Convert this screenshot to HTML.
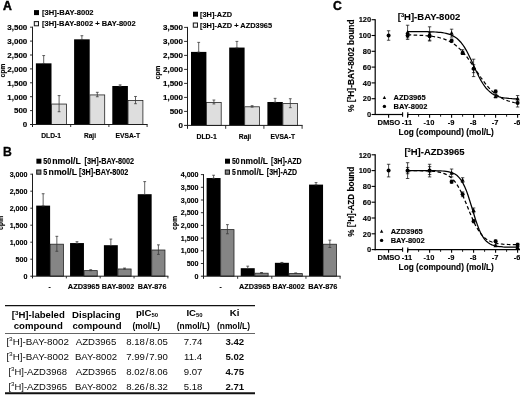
<!DOCTYPE html>
<html><head><meta charset="utf-8"><title>Figure</title>
<style>html,body{margin:0;padding:0;background:#fff}svg{display:block}</style></head>
<body>
<svg width="520" height="395" viewBox="0 0 520 395">
<rect width="520" height="395" fill="#fff"/>
<text x="3.10" y="9.90" font-size="12.2" text-anchor="start" font-family="Liberation Sans, Arial, Helvetica, sans-serif" font-weight="bold" fill="#000" stroke="#000" stroke-width="0.5">A</text>
<text x="2.90" y="155.60" font-size="12.2" text-anchor="start" font-family="Liberation Sans, Arial, Helvetica, sans-serif" font-weight="bold" fill="#000" stroke="#000" stroke-width="0.3">B</text>
<text x="332.90" y="9.80" font-size="12.2" text-anchor="start" font-family="Liberation Sans, Arial, Helvetica, sans-serif" font-weight="bold" fill="#000" stroke="#000" stroke-width="0.4">C</text>
<rect x="35.90" y="63.34" width="15.60" height="61.16" fill="#000"/>
<rect x="51.60" y="104.05" width="14.90" height="20.45" fill="#dedede" stroke="#222" stroke-width="0.8"/>
<line x1="43.70" y1="55.56" x2="43.70" y2="63.64" stroke="#3a3a3a" stroke-width="0.8"/>
<line x1="42.30" y1="55.56" x2="45.10" y2="55.56" stroke="#3a3a3a" stroke-width="0.8"/>
<line x1="42.30" y1="63.64" x2="45.10" y2="63.64" stroke="#3a3a3a" stroke-width="0.8"/>
<line x1="59.10" y1="95.59" x2="59.10" y2="111.71" stroke="#3a3a3a" stroke-width="0.8"/>
<line x1="57.70" y1="95.59" x2="60.50" y2="95.59" stroke="#3a3a3a" stroke-width="0.8"/>
<line x1="57.70" y1="111.71" x2="60.50" y2="111.71" stroke="#3a3a3a" stroke-width="0.8"/>
<rect x="74.10" y="39.32" width="15.60" height="85.18" fill="#000"/>
<rect x="89.80" y="94.93" width="14.90" height="29.57" fill="#dedede" stroke="#222" stroke-width="0.8"/>
<line x1="81.90" y1="35.71" x2="81.90" y2="39.62" stroke="#3a3a3a" stroke-width="0.8"/>
<line x1="80.50" y1="35.71" x2="83.30" y2="35.71" stroke="#3a3a3a" stroke-width="0.8"/>
<line x1="80.50" y1="39.62" x2="83.30" y2="39.62" stroke="#3a3a3a" stroke-width="0.8"/>
<line x1="97.30" y1="92.31" x2="97.30" y2="96.76" stroke="#3a3a3a" stroke-width="0.8"/>
<line x1="95.90" y1="92.31" x2="98.70" y2="92.31" stroke="#3a3a3a" stroke-width="0.8"/>
<line x1="95.90" y1="96.76" x2="98.70" y2="96.76" stroke="#3a3a3a" stroke-width="0.8"/>
<rect x="112.30" y="86.00" width="15.60" height="38.50" fill="#000"/>
<rect x="128.00" y="100.49" width="14.90" height="24.01" fill="#dedede" stroke="#222" stroke-width="0.8"/>
<line x1="120.10" y1="84.88" x2="120.10" y2="86.30" stroke="#3a3a3a" stroke-width="0.8"/>
<line x1="118.70" y1="84.88" x2="121.50" y2="84.88" stroke="#3a3a3a" stroke-width="0.8"/>
<line x1="118.70" y1="86.30" x2="121.50" y2="86.30" stroke="#3a3a3a" stroke-width="0.8"/>
<line x1="135.50" y1="96.48" x2="135.50" y2="103.71" stroke="#3a3a3a" stroke-width="0.8"/>
<line x1="134.10" y1="96.48" x2="136.90" y2="96.48" stroke="#3a3a3a" stroke-width="0.8"/>
<line x1="134.10" y1="103.71" x2="136.90" y2="103.71" stroke="#3a3a3a" stroke-width="0.8"/>
<line x1="32.50" y1="26.70" x2="32.50" y2="127.00" stroke="#1c1c1c" stroke-width="1"/>
<line x1="30.00" y1="124.50" x2="147.60" y2="124.50" stroke="#1c1c1c" stroke-width="1"/>
<line x1="70.70" y1="124.50" x2="70.70" y2="127.00" stroke="#1c1c1c" stroke-width="0.9"/>
<line x1="108.90" y1="124.50" x2="108.90" y2="127.00" stroke="#1c1c1c" stroke-width="0.9"/>
<line x1="147.10" y1="124.50" x2="147.10" y2="127.00" stroke="#1c1c1c" stroke-width="0.9"/>
<text x="22.85" y="127.30" font-size="7.7" text-anchor="start" font-family="Liberation Sans, Arial, Helvetica, sans-serif" font-weight="bold" fill="#000" textLength="4.45" lengthAdjust="spacingAndGlyphs" stroke="#000" stroke-width="0.15">0</text>
<line x1="30.00" y1="110.60" x2="32.50" y2="110.60" stroke="#1c1c1c" stroke-width="0.9"/>
<text x="13.95" y="113.40" font-size="7.7" text-anchor="start" font-family="Liberation Sans, Arial, Helvetica, sans-serif" font-weight="bold" fill="#000" textLength="13.35" lengthAdjust="spacingAndGlyphs" stroke="#000" stroke-width="0.15">500</text>
<line x1="30.00" y1="96.70" x2="32.50" y2="96.70" stroke="#1c1c1c" stroke-width="0.9"/>
<text x="7.30" y="99.50" font-size="7.7" text-anchor="start" font-family="Liberation Sans, Arial, Helvetica, sans-serif" font-weight="bold" fill="#000" textLength="20.00" lengthAdjust="spacingAndGlyphs" stroke="#000" stroke-width="0.15">1,000</text>
<line x1="30.00" y1="82.80" x2="32.50" y2="82.80" stroke="#1c1c1c" stroke-width="0.9"/>
<text x="7.30" y="85.60" font-size="7.7" text-anchor="start" font-family="Liberation Sans, Arial, Helvetica, sans-serif" font-weight="bold" fill="#000" textLength="20.00" lengthAdjust="spacingAndGlyphs" stroke="#000" stroke-width="0.15">1,500</text>
<line x1="30.00" y1="68.90" x2="32.50" y2="68.90" stroke="#1c1c1c" stroke-width="0.9"/>
<text x="7.30" y="71.70" font-size="7.7" text-anchor="start" font-family="Liberation Sans, Arial, Helvetica, sans-serif" font-weight="bold" fill="#000" textLength="20.00" lengthAdjust="spacingAndGlyphs" stroke="#000" stroke-width="0.15">2,000</text>
<line x1="30.00" y1="55.00" x2="32.50" y2="55.00" stroke="#1c1c1c" stroke-width="0.9"/>
<text x="7.30" y="57.80" font-size="7.7" text-anchor="start" font-family="Liberation Sans, Arial, Helvetica, sans-serif" font-weight="bold" fill="#000" textLength="20.00" lengthAdjust="spacingAndGlyphs" stroke="#000" stroke-width="0.15">2,500</text>
<line x1="30.00" y1="41.10" x2="32.50" y2="41.10" stroke="#1c1c1c" stroke-width="0.9"/>
<text x="7.30" y="43.90" font-size="7.7" text-anchor="start" font-family="Liberation Sans, Arial, Helvetica, sans-serif" font-weight="bold" fill="#000" textLength="20.00" lengthAdjust="spacingAndGlyphs" stroke="#000" stroke-width="0.15">3,000</text>
<line x1="30.00" y1="27.20" x2="32.50" y2="27.20" stroke="#1c1c1c" stroke-width="0.9"/>
<text x="7.30" y="30.00" font-size="7.7" text-anchor="start" font-family="Liberation Sans, Arial, Helvetica, sans-serif" font-weight="bold" fill="#000" textLength="20.00" lengthAdjust="spacingAndGlyphs" stroke="#000" stroke-width="0.15">3,500</text>
<text x="41.20" y="138.20" font-size="8.1" text-anchor="start" font-family="Liberation Sans, Arial, Helvetica, sans-serif" font-weight="bold" fill="#000" textLength="19.80" lengthAdjust="spacingAndGlyphs" stroke="#000" stroke-width="0.15">DLD-1</text>
<text x="84.00" y="138.20" font-size="8.1" text-anchor="start" font-family="Liberation Sans, Arial, Helvetica, sans-serif" font-weight="bold" fill="#000" textLength="12.00" lengthAdjust="spacingAndGlyphs" stroke="#000" stroke-width="0.15">Raji</text>
<text x="115.50" y="138.20" font-size="8.1" text-anchor="start" font-family="Liberation Sans, Arial, Helvetica, sans-serif" font-weight="bold" fill="#000" textLength="24.70" lengthAdjust="spacingAndGlyphs" stroke="#000" stroke-width="0.15">EVSA-T</text>
<text transform="translate(4.60,77.60) rotate(-90)" font-size="7.7" text-anchor="start" font-family="Liberation Sans, Arial, Helvetica, sans-serif" font-weight="bold" fill="#000" textLength="14.00" lengthAdjust="spacingAndGlyphs" stroke="#000" stroke-width="0.15">cpm</text>
<rect x="34.00" y="10.10" width="5.00" height="5.00" fill="#000"/>
<text x="42.00" y="15.20" font-size="8.0" text-anchor="start" font-family="Liberation Sans, Arial, Helvetica, sans-serif" font-weight="bold" fill="#000" textLength="51.60" lengthAdjust="spacingAndGlyphs" stroke="#000" stroke-width="0.12">[3H]-BAY-8002</text>
<rect x="34.30" y="21.60" width="4.20" height="4.20" fill="#efefef" stroke="#151515" stroke-width="1.0"/>
<text x="42.00" y="26.40" font-size="8.0" text-anchor="start" font-family="Liberation Sans, Arial, Helvetica, sans-serif" font-weight="bold" fill="#000" textLength="93.60" lengthAdjust="spacingAndGlyphs" stroke="#000" stroke-width="0.12">[3H]-BAY-8002 + BAY-8002</text>
<rect x="191.00" y="51.90" width="15.40" height="73.50" fill="#000"/>
<rect x="206.50" y="102.39" width="14.70" height="23.01" fill="#dedede" stroke="#222" stroke-width="0.8"/>
<line x1="198.70" y1="42.38" x2="198.70" y2="52.20" stroke="#3a3a3a" stroke-width="0.8"/>
<line x1="197.30" y1="42.38" x2="200.10" y2="42.38" stroke="#3a3a3a" stroke-width="0.8"/>
<line x1="197.30" y1="52.20" x2="200.10" y2="52.20" stroke="#3a3a3a" stroke-width="0.8"/>
<line x1="213.90" y1="100.03" x2="213.90" y2="103.95" stroke="#3a3a3a" stroke-width="0.8"/>
<line x1="212.50" y1="100.03" x2="215.30" y2="100.03" stroke="#3a3a3a" stroke-width="0.8"/>
<line x1="212.50" y1="103.95" x2="215.30" y2="103.95" stroke="#3a3a3a" stroke-width="0.8"/>
<rect x="229.20" y="47.56" width="15.40" height="77.84" fill="#000"/>
<rect x="244.70" y="106.79" width="14.70" height="18.61" fill="#dedede" stroke="#222" stroke-width="0.8"/>
<line x1="236.90" y1="41.40" x2="236.90" y2="47.86" stroke="#3a3a3a" stroke-width="0.8"/>
<line x1="235.50" y1="41.40" x2="238.30" y2="41.40" stroke="#3a3a3a" stroke-width="0.8"/>
<line x1="235.50" y1="47.86" x2="238.30" y2="47.86" stroke="#3a3a3a" stroke-width="0.8"/>
<line x1="252.10" y1="105.69" x2="252.10" y2="107.09" stroke="#3a3a3a" stroke-width="0.8"/>
<line x1="250.70" y1="105.69" x2="253.50" y2="105.69" stroke="#3a3a3a" stroke-width="0.8"/>
<line x1="250.70" y1="107.09" x2="253.50" y2="107.09" stroke="#3a3a3a" stroke-width="0.8"/>
<rect x="267.40" y="101.99" width="15.40" height="23.41" fill="#000"/>
<rect x="282.90" y="103.60" width="14.70" height="21.80" fill="#dedede" stroke="#222" stroke-width="0.8"/>
<line x1="275.10" y1="98.35" x2="275.10" y2="102.29" stroke="#3a3a3a" stroke-width="0.8"/>
<line x1="273.70" y1="98.35" x2="276.50" y2="98.35" stroke="#3a3a3a" stroke-width="0.8"/>
<line x1="273.70" y1="102.29" x2="276.50" y2="102.29" stroke="#3a3a3a" stroke-width="0.8"/>
<line x1="290.30" y1="98.72" x2="290.30" y2="107.68" stroke="#3a3a3a" stroke-width="0.8"/>
<line x1="288.90" y1="98.72" x2="291.70" y2="98.72" stroke="#3a3a3a" stroke-width="0.8"/>
<line x1="288.90" y1="107.68" x2="291.70" y2="107.68" stroke="#3a3a3a" stroke-width="0.8"/>
<line x1="187.50" y1="26.90" x2="187.50" y2="128.80" stroke="#1c1c1c" stroke-width="1"/>
<line x1="184.10" y1="125.40" x2="302.60" y2="125.40" stroke="#1c1c1c" stroke-width="1"/>
<line x1="225.70" y1="125.40" x2="225.70" y2="128.80" stroke="#1c1c1c" stroke-width="0.9"/>
<line x1="263.90" y1="125.40" x2="263.90" y2="128.80" stroke="#1c1c1c" stroke-width="0.9"/>
<line x1="302.10" y1="125.40" x2="302.10" y2="128.80" stroke="#1c1c1c" stroke-width="0.9"/>
<text x="178.55" y="128.20" font-size="7.7" text-anchor="start" font-family="Liberation Sans, Arial, Helvetica, sans-serif" font-weight="bold" fill="#000" textLength="4.45" lengthAdjust="spacingAndGlyphs" stroke="#000" stroke-width="0.15">0</text>
<line x1="184.10" y1="111.40" x2="187.50" y2="111.40" stroke="#1c1c1c" stroke-width="0.9"/>
<text x="169.65" y="114.20" font-size="7.7" text-anchor="start" font-family="Liberation Sans, Arial, Helvetica, sans-serif" font-weight="bold" fill="#000" textLength="13.35" lengthAdjust="spacingAndGlyphs" stroke="#000" stroke-width="0.15">500</text>
<line x1="184.10" y1="97.40" x2="187.50" y2="97.40" stroke="#1c1c1c" stroke-width="0.9"/>
<text x="163.00" y="100.20" font-size="7.7" text-anchor="start" font-family="Liberation Sans, Arial, Helvetica, sans-serif" font-weight="bold" fill="#000" textLength="20.00" lengthAdjust="spacingAndGlyphs" stroke="#000" stroke-width="0.15">1,000</text>
<line x1="184.10" y1="83.40" x2="187.50" y2="83.40" stroke="#1c1c1c" stroke-width="0.9"/>
<text x="163.00" y="86.20" font-size="7.7" text-anchor="start" font-family="Liberation Sans, Arial, Helvetica, sans-serif" font-weight="bold" fill="#000" textLength="20.00" lengthAdjust="spacingAndGlyphs" stroke="#000" stroke-width="0.15">1,500</text>
<line x1="184.10" y1="69.40" x2="187.50" y2="69.40" stroke="#1c1c1c" stroke-width="0.9"/>
<text x="163.00" y="72.20" font-size="7.7" text-anchor="start" font-family="Liberation Sans, Arial, Helvetica, sans-serif" font-weight="bold" fill="#000" textLength="20.00" lengthAdjust="spacingAndGlyphs" stroke="#000" stroke-width="0.15">2,000</text>
<line x1="184.10" y1="55.40" x2="187.50" y2="55.40" stroke="#1c1c1c" stroke-width="0.9"/>
<text x="163.00" y="58.20" font-size="7.7" text-anchor="start" font-family="Liberation Sans, Arial, Helvetica, sans-serif" font-weight="bold" fill="#000" textLength="20.00" lengthAdjust="spacingAndGlyphs" stroke="#000" stroke-width="0.15">2,500</text>
<line x1="184.10" y1="41.40" x2="187.50" y2="41.40" stroke="#1c1c1c" stroke-width="0.9"/>
<text x="163.00" y="44.20" font-size="7.7" text-anchor="start" font-family="Liberation Sans, Arial, Helvetica, sans-serif" font-weight="bold" fill="#000" textLength="20.00" lengthAdjust="spacingAndGlyphs" stroke="#000" stroke-width="0.15">3,000</text>
<line x1="184.10" y1="27.40" x2="187.50" y2="27.40" stroke="#1c1c1c" stroke-width="0.9"/>
<text x="163.00" y="30.20" font-size="7.7" text-anchor="start" font-family="Liberation Sans, Arial, Helvetica, sans-serif" font-weight="bold" fill="#000" textLength="20.00" lengthAdjust="spacingAndGlyphs" stroke="#000" stroke-width="0.15">3,500</text>
<text x="196.40" y="139.00" font-size="8.1" text-anchor="start" font-family="Liberation Sans, Arial, Helvetica, sans-serif" font-weight="bold" fill="#000" textLength="20.40" lengthAdjust="spacingAndGlyphs" stroke="#000" stroke-width="0.15">DLD-1</text>
<text x="238.80" y="139.00" font-size="8.1" text-anchor="start" font-family="Liberation Sans, Arial, Helvetica, sans-serif" font-weight="bold" fill="#000" textLength="12.40" lengthAdjust="spacingAndGlyphs" stroke="#000" stroke-width="0.15">Raji</text>
<text x="270.50" y="139.00" font-size="8.1" text-anchor="start" font-family="Liberation Sans, Arial, Helvetica, sans-serif" font-weight="bold" fill="#000" textLength="24.50" lengthAdjust="spacingAndGlyphs" stroke="#000" stroke-width="0.15">EVSA-T</text>
<text transform="translate(160.20,79.60) rotate(-90)" font-size="7.7" text-anchor="start" font-family="Liberation Sans, Arial, Helvetica, sans-serif" font-weight="bold" fill="#000" textLength="14.00" lengthAdjust="spacingAndGlyphs" stroke="#000" stroke-width="0.15">cpm</text>
<rect x="193.00" y="11.70" width="5.00" height="5.00" fill="#000"/>
<text x="200.00" y="16.80" font-size="8.0" text-anchor="start" font-family="Liberation Sans, Arial, Helvetica, sans-serif" font-weight="bold" fill="#000" textLength="32.00" lengthAdjust="spacingAndGlyphs" stroke="#000" stroke-width="0.12">[3H]-AZD</text>
<rect x="193.30" y="23.00" width="4.20" height="4.20" fill="#efefef" stroke="#151515" stroke-width="1.0"/>
<text x="200.00" y="27.80" font-size="8.0" text-anchor="start" font-family="Liberation Sans, Arial, Helvetica, sans-serif" font-weight="bold" fill="#000" textLength="72.00" lengthAdjust="spacingAndGlyphs" stroke="#000" stroke-width="0.12">[3H]-AZD + AZD3965</text>
<rect x="36.20" y="205.62" width="13.90" height="70.58" fill="#000"/>
<rect x="50.20" y="244.20" width="13.20" height="32.00" fill="#858585" stroke="#222" stroke-width="0.8"/>
<line x1="43.15" y1="193.72" x2="43.15" y2="205.92" stroke="#3a3a3a" stroke-width="0.8"/>
<line x1="41.75" y1="193.72" x2="44.55" y2="193.72" stroke="#3a3a3a" stroke-width="0.8"/>
<line x1="41.75" y1="205.92" x2="44.55" y2="205.92" stroke="#3a3a3a" stroke-width="0.8"/>
<line x1="56.85" y1="236.32" x2="56.85" y2="251.28" stroke="#3a3a3a" stroke-width="0.8"/>
<line x1="55.45" y1="236.32" x2="58.25" y2="236.32" stroke="#3a3a3a" stroke-width="0.8"/>
<line x1="55.45" y1="251.28" x2="58.25" y2="251.28" stroke="#3a3a3a" stroke-width="0.8"/>
<rect x="70.05" y="243.05" width="13.90" height="33.15" fill="#000"/>
<rect x="84.05" y="270.62" width="13.20" height="5.58" fill="#858585" stroke="#222" stroke-width="0.8"/>
<line x1="77.00" y1="241.69" x2="77.00" y2="243.35" stroke="#3a3a3a" stroke-width="0.8"/>
<line x1="75.60" y1="241.69" x2="78.40" y2="241.69" stroke="#3a3a3a" stroke-width="0.8"/>
<line x1="75.60" y1="243.35" x2="78.40" y2="243.35" stroke="#3a3a3a" stroke-width="0.8"/>
<line x1="90.70" y1="269.71" x2="90.70" y2="270.73" stroke="#3a3a3a" stroke-width="0.8"/>
<line x1="89.30" y1="269.71" x2="92.10" y2="269.71" stroke="#3a3a3a" stroke-width="0.8"/>
<line x1="89.30" y1="270.73" x2="92.10" y2="270.73" stroke="#3a3a3a" stroke-width="0.8"/>
<rect x="103.90" y="245.19" width="13.90" height="31.01" fill="#000"/>
<rect x="117.90" y="268.98" width="13.20" height="7.22" fill="#858585" stroke="#222" stroke-width="0.8"/>
<line x1="110.85" y1="239.07" x2="110.85" y2="245.49" stroke="#3a3a3a" stroke-width="0.8"/>
<line x1="109.45" y1="239.07" x2="112.25" y2="239.07" stroke="#3a3a3a" stroke-width="0.8"/>
<line x1="109.45" y1="245.49" x2="112.25" y2="245.49" stroke="#3a3a3a" stroke-width="0.8"/>
<line x1="124.55" y1="268.07" x2="124.55" y2="269.09" stroke="#3a3a3a" stroke-width="0.8"/>
<line x1="123.15" y1="268.07" x2="125.95" y2="268.07" stroke="#3a3a3a" stroke-width="0.8"/>
<line x1="123.15" y1="269.09" x2="125.95" y2="269.09" stroke="#3a3a3a" stroke-width="0.8"/>
<rect x="137.75" y="194.19" width="13.90" height="82.01" fill="#000"/>
<rect x="151.75" y="250.01" width="13.20" height="26.19" fill="#858585" stroke="#222" stroke-width="0.8"/>
<line x1="144.70" y1="181.61" x2="144.70" y2="194.49" stroke="#3a3a3a" stroke-width="0.8"/>
<line x1="143.30" y1="181.61" x2="146.10" y2="181.61" stroke="#3a3a3a" stroke-width="0.8"/>
<line x1="143.30" y1="194.49" x2="146.10" y2="194.49" stroke="#3a3a3a" stroke-width="0.8"/>
<line x1="158.40" y1="244.85" x2="158.40" y2="254.37" stroke="#3a3a3a" stroke-width="0.8"/>
<line x1="157.00" y1="244.85" x2="159.80" y2="244.85" stroke="#3a3a3a" stroke-width="0.8"/>
<line x1="157.00" y1="254.37" x2="159.80" y2="254.37" stroke="#3a3a3a" stroke-width="0.8"/>
<line x1="32.50" y1="173.70" x2="32.50" y2="278.40" stroke="#1c1c1c" stroke-width="1"/>
<line x1="30.30" y1="276.20" x2="168.40" y2="276.20" stroke="#1c1c1c" stroke-width="1"/>
<line x1="66.35" y1="276.20" x2="66.35" y2="278.40" stroke="#1c1c1c" stroke-width="0.9"/>
<line x1="100.20" y1="276.20" x2="100.20" y2="278.40" stroke="#1c1c1c" stroke-width="0.9"/>
<line x1="134.05" y1="276.20" x2="134.05" y2="278.40" stroke="#1c1c1c" stroke-width="0.9"/>
<line x1="167.90" y1="276.20" x2="167.90" y2="278.40" stroke="#1c1c1c" stroke-width="0.9"/>
<text x="23.45" y="278.80" font-size="7.1" text-anchor="start" font-family="Liberation Sans, Arial, Helvetica, sans-serif" font-weight="bold" fill="#000" textLength="3.95" lengthAdjust="spacingAndGlyphs" stroke="#000" stroke-width="0.15">0</text>
<line x1="30.30" y1="259.20" x2="32.50" y2="259.20" stroke="#1c1c1c" stroke-width="0.9"/>
<text x="15.55" y="261.80" font-size="7.1" text-anchor="start" font-family="Liberation Sans, Arial, Helvetica, sans-serif" font-weight="bold" fill="#000" textLength="11.85" lengthAdjust="spacingAndGlyphs" stroke="#000" stroke-width="0.15">500</text>
<line x1="30.30" y1="242.20" x2="32.50" y2="242.20" stroke="#1c1c1c" stroke-width="0.9"/>
<text x="9.70" y="244.80" font-size="7.1" text-anchor="start" font-family="Liberation Sans, Arial, Helvetica, sans-serif" font-weight="bold" fill="#000" textLength="17.70" lengthAdjust="spacingAndGlyphs" stroke="#000" stroke-width="0.15">1,000</text>
<line x1="30.30" y1="225.20" x2="32.50" y2="225.20" stroke="#1c1c1c" stroke-width="0.9"/>
<text x="9.70" y="227.80" font-size="7.1" text-anchor="start" font-family="Liberation Sans, Arial, Helvetica, sans-serif" font-weight="bold" fill="#000" textLength="17.70" lengthAdjust="spacingAndGlyphs" stroke="#000" stroke-width="0.15">1,500</text>
<line x1="30.30" y1="208.20" x2="32.50" y2="208.20" stroke="#1c1c1c" stroke-width="0.9"/>
<text x="9.70" y="210.80" font-size="7.1" text-anchor="start" font-family="Liberation Sans, Arial, Helvetica, sans-serif" font-weight="bold" fill="#000" textLength="17.70" lengthAdjust="spacingAndGlyphs" stroke="#000" stroke-width="0.15">2,000</text>
<line x1="30.30" y1="191.20" x2="32.50" y2="191.20" stroke="#1c1c1c" stroke-width="0.9"/>
<text x="9.70" y="193.80" font-size="7.1" text-anchor="start" font-family="Liberation Sans, Arial, Helvetica, sans-serif" font-weight="bold" fill="#000" textLength="17.70" lengthAdjust="spacingAndGlyphs" stroke="#000" stroke-width="0.15">2,500</text>
<line x1="30.30" y1="174.20" x2="32.50" y2="174.20" stroke="#1c1c1c" stroke-width="0.9"/>
<text x="9.70" y="176.80" font-size="7.1" text-anchor="start" font-family="Liberation Sans, Arial, Helvetica, sans-serif" font-weight="bold" fill="#000" textLength="17.70" lengthAdjust="spacingAndGlyphs" stroke="#000" stroke-width="0.15">3,000</text>
<text x="48.40" y="289.10" font-size="8.1" text-anchor="start" font-family="Liberation Sans, Arial, Helvetica, sans-serif" font-weight="bold" fill="#000" textLength="2.20" lengthAdjust="spacingAndGlyphs" stroke="#000" stroke-width="0.15">-</text>
<text x="67.80" y="289.10" font-size="8.1" text-anchor="start" font-family="Liberation Sans, Arial, Helvetica, sans-serif" font-weight="bold" fill="#000" textLength="31.80" lengthAdjust="spacingAndGlyphs" stroke="#000" stroke-width="0.15">AZD3965</text>
<text x="101.80" y="289.10" font-size="8.1" text-anchor="start" font-family="Liberation Sans, Arial, Helvetica, sans-serif" font-weight="bold" fill="#000" textLength="32.40" lengthAdjust="spacingAndGlyphs" stroke="#000" stroke-width="0.15">BAY-8002</text>
<text x="137.80" y="289.10" font-size="8.1" text-anchor="start" font-family="Liberation Sans, Arial, Helvetica, sans-serif" font-weight="bold" fill="#000" textLength="28.60" lengthAdjust="spacingAndGlyphs" stroke="#000" stroke-width="0.15">BAY-876</text>
<text transform="translate(3.40,230.00) rotate(-90)" font-size="7.7" text-anchor="start" font-family="Liberation Sans, Arial, Helvetica, sans-serif" font-weight="bold" fill="#000" textLength="14.00" lengthAdjust="spacingAndGlyphs" stroke="#000" stroke-width="0.15">cpm</text>
<rect x="36.40" y="158.70" width="5.00" height="5.00" fill="#000"/>
<text x="43.30" y="163.80" font-size="8.600000000000001" text-anchor="start" font-family="Liberation Sans, Arial, Helvetica, sans-serif" font-weight="bold" fill="#000" textLength="8.00" lengthAdjust="spacingAndGlyphs" stroke="#000" stroke-width="0.12">50</text>
<text x="52.20" y="163.80" font-size="8.3" text-anchor="start" font-family="Liberation Sans, Arial, Helvetica, sans-serif" font-weight="bold" fill="#000" textLength="28.60" lengthAdjust="spacingAndGlyphs" stroke="#000" stroke-width="0.12">nmol/L</text>
<text x="84.60" y="163.80" font-size="8.4" text-anchor="start" font-family="Liberation Sans, Arial, Helvetica, sans-serif" font-weight="bold" fill="#000" textLength="49.50" lengthAdjust="spacingAndGlyphs" stroke="#000" stroke-width="0.12">[3H]-BAY-8002</text>
<rect x="36.70" y="170.00" width="4.20" height="4.20" fill="#858585" stroke="#151515" stroke-width="1.0"/>
<text x="43.30" y="174.80" font-size="8.600000000000001" text-anchor="start" font-family="Liberation Sans, Arial, Helvetica, sans-serif" font-weight="bold" fill="#000" textLength="4.00" lengthAdjust="spacingAndGlyphs" stroke="#000" stroke-width="0.12">5</text>
<text x="48.60" y="174.80" font-size="8.3" text-anchor="start" font-family="Liberation Sans, Arial, Helvetica, sans-serif" font-weight="bold" fill="#000" textLength="28.40" lengthAdjust="spacingAndGlyphs" stroke="#000" stroke-width="0.12">nmol/L</text>
<text x="79.10" y="174.80" font-size="8.4" text-anchor="start" font-family="Liberation Sans, Arial, Helvetica, sans-serif" font-weight="bold" fill="#000" textLength="49.30" lengthAdjust="spacingAndGlyphs" stroke="#000" stroke-width="0.12">[3H]-BAY-8002</text>
<rect x="206.60" y="178.03" width="14.00" height="98.17" fill="#000"/>
<rect x="220.70" y="229.61" width="13.30" height="46.59" fill="#858585" stroke="#222" stroke-width="0.8"/>
<line x1="213.60" y1="175.24" x2="213.60" y2="178.33" stroke="#3a3a3a" stroke-width="0.8"/>
<line x1="212.20" y1="175.24" x2="215.00" y2="175.24" stroke="#3a3a3a" stroke-width="0.8"/>
<line x1="212.20" y1="178.33" x2="215.00" y2="178.33" stroke="#3a3a3a" stroke-width="0.8"/>
<line x1="227.40" y1="224.64" x2="227.40" y2="233.78" stroke="#3a3a3a" stroke-width="0.8"/>
<line x1="226.00" y1="224.64" x2="228.80" y2="224.64" stroke="#3a3a3a" stroke-width="0.8"/>
<line x1="226.00" y1="233.78" x2="228.80" y2="233.78" stroke="#3a3a3a" stroke-width="0.8"/>
<rect x="240.75" y="268.20" width="14.00" height="8.00" fill="#000"/>
<rect x="254.85" y="273.20" width="13.30" height="3.00" fill="#858585" stroke="#222" stroke-width="0.8"/>
<line x1="247.75" y1="266.17" x2="247.75" y2="268.50" stroke="#3a3a3a" stroke-width="0.8"/>
<line x1="246.35" y1="266.17" x2="249.15" y2="266.17" stroke="#3a3a3a" stroke-width="0.8"/>
<line x1="246.35" y1="268.50" x2="249.15" y2="268.50" stroke="#3a3a3a" stroke-width="0.8"/>
<line x1="261.55" y1="272.54" x2="261.55" y2="273.05" stroke="#3a3a3a" stroke-width="0.8"/>
<line x1="260.15" y1="272.54" x2="262.95" y2="272.54" stroke="#3a3a3a" stroke-width="0.8"/>
<line x1="260.15" y1="273.05" x2="262.95" y2="273.05" stroke="#3a3a3a" stroke-width="0.8"/>
<rect x="274.90" y="262.81" width="14.00" height="13.39" fill="#000"/>
<rect x="289.00" y="273.60" width="13.30" height="2.60" fill="#858585" stroke="#222" stroke-width="0.8"/>
<line x1="281.90" y1="262.43" x2="281.90" y2="263.11" stroke="#3a3a3a" stroke-width="0.8"/>
<line x1="280.50" y1="262.43" x2="283.30" y2="262.43" stroke="#3a3a3a" stroke-width="0.8"/>
<line x1="280.50" y1="263.11" x2="283.30" y2="263.11" stroke="#3a3a3a" stroke-width="0.8"/>
<line x1="295.70" y1="272.95" x2="295.70" y2="273.46" stroke="#3a3a3a" stroke-width="0.8"/>
<line x1="294.30" y1="272.95" x2="297.10" y2="272.95" stroke="#3a3a3a" stroke-width="0.8"/>
<line x1="294.30" y1="273.46" x2="297.10" y2="273.46" stroke="#3a3a3a" stroke-width="0.8"/>
<rect x="309.05" y="184.61" width="14.00" height="91.59" fill="#000"/>
<rect x="323.15" y="244.22" width="13.30" height="31.98" fill="#858585" stroke="#222" stroke-width="0.8"/>
<line x1="316.05" y1="182.58" x2="316.05" y2="184.91" stroke="#3a3a3a" stroke-width="0.8"/>
<line x1="314.65" y1="182.58" x2="317.45" y2="182.58" stroke="#3a3a3a" stroke-width="0.8"/>
<line x1="314.65" y1="184.91" x2="317.45" y2="184.91" stroke="#3a3a3a" stroke-width="0.8"/>
<line x1="329.85" y1="240.13" x2="329.85" y2="247.50" stroke="#3a3a3a" stroke-width="0.8"/>
<line x1="328.45" y1="240.13" x2="331.25" y2="240.13" stroke="#3a3a3a" stroke-width="0.8"/>
<line x1="328.45" y1="247.50" x2="331.25" y2="247.50" stroke="#3a3a3a" stroke-width="0.8"/>
<line x1="203.50" y1="174.10" x2="203.50" y2="278.80" stroke="#1c1c1c" stroke-width="1"/>
<line x1="200.90" y1="276.20" x2="340.60" y2="276.20" stroke="#1c1c1c" stroke-width="1"/>
<line x1="237.65" y1="276.20" x2="237.65" y2="278.80" stroke="#1c1c1c" stroke-width="0.9"/>
<line x1="271.80" y1="276.20" x2="271.80" y2="278.80" stroke="#1c1c1c" stroke-width="0.9"/>
<line x1="305.95" y1="276.20" x2="305.95" y2="278.80" stroke="#1c1c1c" stroke-width="0.9"/>
<line x1="340.10" y1="276.20" x2="340.10" y2="278.80" stroke="#1c1c1c" stroke-width="0.9"/>
<text x="194.55" y="278.80" font-size="7.1" text-anchor="start" font-family="Liberation Sans, Arial, Helvetica, sans-serif" font-weight="bold" fill="#000" textLength="3.95" lengthAdjust="spacingAndGlyphs" stroke="#000" stroke-width="0.15">0</text>
<line x1="200.90" y1="263.50" x2="203.50" y2="263.50" stroke="#1c1c1c" stroke-width="0.9"/>
<text x="186.65" y="266.10" font-size="7.1" text-anchor="start" font-family="Liberation Sans, Arial, Helvetica, sans-serif" font-weight="bold" fill="#000" textLength="11.85" lengthAdjust="spacingAndGlyphs" stroke="#000" stroke-width="0.15">500</text>
<line x1="200.90" y1="250.80" x2="203.50" y2="250.80" stroke="#1c1c1c" stroke-width="0.9"/>
<text x="180.80" y="253.40" font-size="7.1" text-anchor="start" font-family="Liberation Sans, Arial, Helvetica, sans-serif" font-weight="bold" fill="#000" textLength="17.70" lengthAdjust="spacingAndGlyphs" stroke="#000" stroke-width="0.15">1,000</text>
<line x1="200.90" y1="238.10" x2="203.50" y2="238.10" stroke="#1c1c1c" stroke-width="0.9"/>
<text x="180.80" y="240.70" font-size="7.1" text-anchor="start" font-family="Liberation Sans, Arial, Helvetica, sans-serif" font-weight="bold" fill="#000" textLength="17.70" lengthAdjust="spacingAndGlyphs" stroke="#000" stroke-width="0.15">1,500</text>
<line x1="200.90" y1="225.40" x2="203.50" y2="225.40" stroke="#1c1c1c" stroke-width="0.9"/>
<text x="180.80" y="228.00" font-size="7.1" text-anchor="start" font-family="Liberation Sans, Arial, Helvetica, sans-serif" font-weight="bold" fill="#000" textLength="17.70" lengthAdjust="spacingAndGlyphs" stroke="#000" stroke-width="0.15">2,000</text>
<line x1="200.90" y1="212.70" x2="203.50" y2="212.70" stroke="#1c1c1c" stroke-width="0.9"/>
<text x="180.80" y="215.30" font-size="7.1" text-anchor="start" font-family="Liberation Sans, Arial, Helvetica, sans-serif" font-weight="bold" fill="#000" textLength="17.70" lengthAdjust="spacingAndGlyphs" stroke="#000" stroke-width="0.15">2,500</text>
<line x1="200.90" y1="200.00" x2="203.50" y2="200.00" stroke="#1c1c1c" stroke-width="0.9"/>
<text x="180.80" y="202.60" font-size="7.1" text-anchor="start" font-family="Liberation Sans, Arial, Helvetica, sans-serif" font-weight="bold" fill="#000" textLength="17.70" lengthAdjust="spacingAndGlyphs" stroke="#000" stroke-width="0.15">3,000</text>
<line x1="200.90" y1="187.30" x2="203.50" y2="187.30" stroke="#1c1c1c" stroke-width="0.9"/>
<text x="180.80" y="189.90" font-size="7.1" text-anchor="start" font-family="Liberation Sans, Arial, Helvetica, sans-serif" font-weight="bold" fill="#000" textLength="17.70" lengthAdjust="spacingAndGlyphs" stroke="#000" stroke-width="0.15">3,500</text>
<line x1="200.90" y1="174.60" x2="203.50" y2="174.60" stroke="#1c1c1c" stroke-width="0.9"/>
<text x="180.80" y="177.20" font-size="7.1" text-anchor="start" font-family="Liberation Sans, Arial, Helvetica, sans-serif" font-weight="bold" fill="#000" textLength="17.70" lengthAdjust="spacingAndGlyphs" stroke="#000" stroke-width="0.15">4,000</text>
<text x="219.50" y="289.10" font-size="8.1" text-anchor="start" font-family="Liberation Sans, Arial, Helvetica, sans-serif" font-weight="bold" fill="#000" textLength="2.20" lengthAdjust="spacingAndGlyphs" stroke="#000" stroke-width="0.15">-</text>
<text x="239.00" y="289.10" font-size="8.1" text-anchor="start" font-family="Liberation Sans, Arial, Helvetica, sans-serif" font-weight="bold" fill="#000" textLength="31.30" lengthAdjust="spacingAndGlyphs" stroke="#000" stroke-width="0.15">AZD3965</text>
<text x="272.50" y="289.10" font-size="8.1" text-anchor="start" font-family="Liberation Sans, Arial, Helvetica, sans-serif" font-weight="bold" fill="#000" textLength="32.10" lengthAdjust="spacingAndGlyphs" stroke="#000" stroke-width="0.15">BAY-8002</text>
<text x="308.20" y="289.10" font-size="8.1" text-anchor="start" font-family="Liberation Sans, Arial, Helvetica, sans-serif" font-weight="bold" fill="#000" textLength="29.30" lengthAdjust="spacingAndGlyphs" stroke="#000" stroke-width="0.15">BAY-876</text>
<text transform="translate(176.70,230.00) rotate(-90)" font-size="7.7" text-anchor="start" font-family="Liberation Sans, Arial, Helvetica, sans-serif" font-weight="bold" fill="#000" textLength="14.00" lengthAdjust="spacingAndGlyphs" stroke="#000" stroke-width="0.15">cpm</text>
<rect x="225.00" y="158.70" width="5.00" height="5.00" fill="#000"/>
<text x="231.90" y="163.80" font-size="8.600000000000001" text-anchor="start" font-family="Liberation Sans, Arial, Helvetica, sans-serif" font-weight="bold" fill="#000" textLength="7.70" lengthAdjust="spacingAndGlyphs" stroke="#000" stroke-width="0.12">50</text>
<text x="240.40" y="163.80" font-size="8.3" text-anchor="start" font-family="Liberation Sans, Arial, Helvetica, sans-serif" font-weight="bold" fill="#000" textLength="27.50" lengthAdjust="spacingAndGlyphs" stroke="#000" stroke-width="0.12">nmol/L</text>
<text x="271.10" y="163.80" font-size="8.4" text-anchor="start" font-family="Liberation Sans, Arial, Helvetica, sans-serif" font-weight="bold" fill="#000" textLength="30.60" lengthAdjust="spacingAndGlyphs" stroke="#000" stroke-width="0.12">[3H]-AZD</text>
<rect x="225.30" y="170.00" width="4.20" height="4.20" fill="#858585" stroke="#151515" stroke-width="1.0"/>
<text x="231.90" y="174.80" font-size="8.600000000000001" text-anchor="start" font-family="Liberation Sans, Arial, Helvetica, sans-serif" font-weight="bold" fill="#000" textLength="3.80" lengthAdjust="spacingAndGlyphs" stroke="#000" stroke-width="0.12">5</text>
<text x="236.80" y="174.80" font-size="8.3" text-anchor="start" font-family="Liberation Sans, Arial, Helvetica, sans-serif" font-weight="bold" fill="#000" textLength="26.90" lengthAdjust="spacingAndGlyphs" stroke="#000" stroke-width="0.12">nmol/L</text>
<text x="266.80" y="174.80" font-size="8.4" text-anchor="start" font-family="Liberation Sans, Arial, Helvetica, sans-serif" font-weight="bold" fill="#000" textLength="30.30" lengthAdjust="spacingAndGlyphs" stroke="#000" stroke-width="0.12">[3H]-AZD</text>
<line x1="5.00" y1="305.60" x2="255.00" y2="305.60" stroke="#111" stroke-width="1.3"/>
<line x1="5.00" y1="333.50" x2="255.00" y2="333.50" stroke="#222" stroke-width="0.7"/>
<line x1="5.00" y1="393.20" x2="255.00" y2="393.20" stroke="#111" stroke-width="2.0"/>
<text x="38.30" y="318.40" font-size="9.6" text-anchor="middle" font-family="Liberation Sans, Arial, Helvetica, sans-serif" font-weight="bold" fill="#000">[<tspan font-size="6.24" dy="-3.46">3</tspan><tspan dy="3.46">H]-labeled</tspan></text>
<text x="38.30" y="329.30" font-size="9.6" text-anchor="middle" font-family="Liberation Sans, Arial, Helvetica, sans-serif" font-weight="bold" fill="#000">compound</text>
<text x="96.30" y="318.40" font-size="9.6" text-anchor="middle" font-family="Liberation Sans, Arial, Helvetica, sans-serif" font-weight="bold" fill="#000">Displacing</text>
<text x="97.00" y="329.30" font-size="9.6" text-anchor="middle" font-family="Liberation Sans, Arial, Helvetica, sans-serif" font-weight="bold" fill="#000">compound</text>
<text x="147.00" y="316.20" font-size="9.6" text-anchor="middle" font-family="Liberation Sans, Arial, Helvetica, sans-serif" font-weight="bold" fill="#000">pIC<tspan font-size="5.95" dy="1.15">50</tspan></text>
<text x="146.40" y="329.30" font-size="8.4" text-anchor="middle" font-family="Liberation Sans, Arial, Helvetica, sans-serif" font-weight="bold" fill="#000">(mol/L)</text>
<text x="194.50" y="316.20" font-size="9.6" text-anchor="middle" font-family="Liberation Sans, Arial, Helvetica, sans-serif" font-weight="bold" fill="#000">IC<tspan font-size="5.95" dy="1.15">50</tspan></text>
<text x="193.30" y="329.30" font-size="8.4" text-anchor="middle" font-family="Liberation Sans, Arial, Helvetica, sans-serif" font-weight="bold" fill="#000">(nmol/L)</text>
<text x="234.50" y="316.20" font-size="9.6" text-anchor="middle" font-family="Liberation Sans, Arial, Helvetica, sans-serif" font-weight="bold" fill="#000">Ki</text>
<text x="233.50" y="329.30" font-size="8.4" text-anchor="middle" font-family="Liberation Sans, Arial, Helvetica, sans-serif" font-weight="bold" fill="#000">(nmol/L)</text>
<text x="6.40" y="344.60" font-size="9.6" text-anchor="start" font-family="Liberation Sans, Arial, Helvetica, sans-serif" fill="#0a0a0a" textLength="62.60" lengthAdjust="spacingAndGlyphs">[<tspan font-size="6.24" dy="-3.46">3</tspan><tspan dy="3.46">H]-BAY-8002</tspan></text>
<text x="96.00" y="344.60" font-size="9.6" text-anchor="middle" font-family="Liberation Sans, Arial, Helvetica, sans-serif" fill="#0a0a0a">AZD3965</text>
<text x="147.00" y="344.60" font-size="9.6" text-anchor="middle" font-family="Liberation Sans, Arial, Helvetica, sans-serif" fill="#0a0a0a">8.18<tspan dx="0.8">/</tspan><tspan dx="0.8">8.05</tspan></text>
<text x="193.00" y="344.60" font-size="9.6" text-anchor="middle" font-family="Liberation Sans, Arial, Helvetica, sans-serif" fill="#0a0a0a">7.74</text>
<text x="234.80" y="344.60" font-size="9.6" text-anchor="middle" font-family="Liberation Sans, Arial, Helvetica, sans-serif" font-weight="bold" fill="#0a0a0a">3.42</text>
<text x="6.40" y="359.60" font-size="9.6" text-anchor="start" font-family="Liberation Sans, Arial, Helvetica, sans-serif" fill="#0a0a0a" textLength="62.60" lengthAdjust="spacingAndGlyphs">[<tspan font-size="6.24" dy="-3.46">3</tspan><tspan dy="3.46">H]-BAY-8002</tspan></text>
<text x="96.00" y="359.60" font-size="9.6" text-anchor="middle" font-family="Liberation Sans, Arial, Helvetica, sans-serif" fill="#0a0a0a">BAY-8002</text>
<text x="147.00" y="359.60" font-size="9.6" text-anchor="middle" font-family="Liberation Sans, Arial, Helvetica, sans-serif" fill="#0a0a0a">7.99<tspan dx="0.8">/</tspan><tspan dx="0.8">7.90</tspan></text>
<text x="193.00" y="359.60" font-size="9.6" text-anchor="middle" font-family="Liberation Sans, Arial, Helvetica, sans-serif" fill="#0a0a0a">11.4</text>
<text x="234.80" y="359.60" font-size="9.6" text-anchor="middle" font-family="Liberation Sans, Arial, Helvetica, sans-serif" font-weight="bold" fill="#0a0a0a">5.02</text>
<text x="8.40" y="374.60" font-size="9.6" text-anchor="start" font-family="Liberation Sans, Arial, Helvetica, sans-serif" fill="#0a0a0a" textLength="58.60" lengthAdjust="spacingAndGlyphs">[<tspan font-size="6.24" dy="-3.46">3</tspan><tspan dy="3.46">H]-AZD3968</tspan></text>
<text x="96.00" y="374.60" font-size="9.6" text-anchor="middle" font-family="Liberation Sans, Arial, Helvetica, sans-serif" fill="#0a0a0a">AZD3965</text>
<text x="147.00" y="374.60" font-size="9.6" text-anchor="middle" font-family="Liberation Sans, Arial, Helvetica, sans-serif" fill="#0a0a0a">8.02<tspan dx="0.8">/</tspan><tspan dx="0.8">8.06</tspan></text>
<text x="193.00" y="374.60" font-size="9.6" text-anchor="middle" font-family="Liberation Sans, Arial, Helvetica, sans-serif" fill="#0a0a0a">9.07</text>
<text x="234.80" y="374.60" font-size="9.6" text-anchor="middle" font-family="Liberation Sans, Arial, Helvetica, sans-serif" font-weight="bold" fill="#0a0a0a">4.75</text>
<text x="8.40" y="389.60" font-size="9.6" text-anchor="start" font-family="Liberation Sans, Arial, Helvetica, sans-serif" fill="#0a0a0a" textLength="58.60" lengthAdjust="spacingAndGlyphs">[<tspan font-size="6.24" dy="-3.46">3</tspan><tspan dy="3.46">H]-AZD3965</tspan></text>
<text x="96.00" y="389.60" font-size="9.6" text-anchor="middle" font-family="Liberation Sans, Arial, Helvetica, sans-serif" fill="#0a0a0a">BAY-8002</text>
<text x="147.00" y="389.60" font-size="9.6" text-anchor="middle" font-family="Liberation Sans, Arial, Helvetica, sans-serif" fill="#0a0a0a">8.26<tspan dx="0.8">/</tspan><tspan dx="0.8">8.32</tspan></text>
<text x="193.00" y="389.60" font-size="9.6" text-anchor="middle" font-family="Liberation Sans, Arial, Helvetica, sans-serif" fill="#0a0a0a">5.18</text>
<text x="234.80" y="389.60" font-size="9.6" text-anchor="middle" font-family="Liberation Sans, Arial, Helvetica, sans-serif" font-weight="bold" fill="#0a0a0a">2.71</text>
<line x1="375.20" y1="19.20" x2="375.20" y2="115.10" stroke="#000" stroke-width="1.2"/>
<line x1="374.60" y1="114.50" x2="402.60" y2="114.50" stroke="#000" stroke-width="1.2"/>
<line x1="407.60" y1="114.50" x2="520.00" y2="114.50" stroke="#000" stroke-width="1.2"/>
<line x1="402.60" y1="112.30" x2="402.60" y2="116.70" stroke="#000" stroke-width="1.1"/>
<line x1="407.80" y1="112.30" x2="407.80" y2="116.70" stroke="#000" stroke-width="1.1"/>
<line x1="371.60" y1="114.50" x2="375.20" y2="114.50" stroke="#000" stroke-width="1.1"/>
<text x="371.20" y="117.20" font-size="7.5" text-anchor="end" font-family="Liberation Sans, Arial, Helvetica, sans-serif" font-weight="bold" fill="#000" stroke="#000" stroke-width="0.12">0</text>
<line x1="371.60" y1="98.70" x2="375.20" y2="98.70" stroke="#000" stroke-width="1.1"/>
<text x="371.20" y="101.40" font-size="7.5" text-anchor="end" font-family="Liberation Sans, Arial, Helvetica, sans-serif" font-weight="bold" fill="#000" stroke="#000" stroke-width="0.12">20</text>
<line x1="371.60" y1="82.90" x2="375.20" y2="82.90" stroke="#000" stroke-width="1.1"/>
<text x="371.20" y="85.60" font-size="7.5" text-anchor="end" font-family="Liberation Sans, Arial, Helvetica, sans-serif" font-weight="bold" fill="#000" stroke="#000" stroke-width="0.12">40</text>
<line x1="371.60" y1="67.10" x2="375.20" y2="67.10" stroke="#000" stroke-width="1.1"/>
<text x="371.20" y="69.80" font-size="7.5" text-anchor="end" font-family="Liberation Sans, Arial, Helvetica, sans-serif" font-weight="bold" fill="#000" stroke="#000" stroke-width="0.12">60</text>
<line x1="371.60" y1="51.30" x2="375.20" y2="51.30" stroke="#000" stroke-width="1.1"/>
<text x="371.20" y="54.00" font-size="7.5" text-anchor="end" font-family="Liberation Sans, Arial, Helvetica, sans-serif" font-weight="bold" fill="#000" stroke="#000" stroke-width="0.12">80</text>
<line x1="371.60" y1="35.50" x2="375.20" y2="35.50" stroke="#000" stroke-width="1.1"/>
<text x="371.20" y="38.20" font-size="7.5" text-anchor="end" font-family="Liberation Sans, Arial, Helvetica, sans-serif" font-weight="bold" fill="#000" stroke="#000" stroke-width="0.12">100</text>
<line x1="371.60" y1="19.70" x2="375.20" y2="19.70" stroke="#000" stroke-width="1.1"/>
<text x="371.20" y="22.40" font-size="7.5" text-anchor="end" font-family="Liberation Sans, Arial, Helvetica, sans-serif" font-weight="bold" fill="#000" stroke="#000" stroke-width="0.12">120</text>
<line x1="388.60" y1="114.50" x2="388.60" y2="117.70" stroke="#000" stroke-width="1.1"/>
<text x="377.40" y="125.20" font-size="7.5" text-anchor="start" font-family="Liberation Sans, Arial, Helvetica, sans-serif" font-weight="bold" fill="#000" textLength="22.80" lengthAdjust="spacingAndGlyphs" stroke="#000" stroke-width="0.12">DMSO</text>
<line x1="407.60" y1="114.50" x2="407.60" y2="117.70" stroke="#000" stroke-width="1.1"/>
<text x="407.00" y="125.20" font-size="7.5" text-anchor="middle" font-family="Liberation Sans, Arial, Helvetica, sans-serif" font-weight="bold" fill="#000" stroke="#000" stroke-width="0.12">-11</text>
<line x1="418.60" y1="114.50" x2="418.60" y2="116.70" stroke="#000" stroke-width="0.9"/>
<line x1="429.60" y1="114.50" x2="429.60" y2="117.70" stroke="#000" stroke-width="1.1"/>
<text x="429.00" y="125.20" font-size="7.5" text-anchor="middle" font-family="Liberation Sans, Arial, Helvetica, sans-serif" font-weight="bold" fill="#000" stroke="#000" stroke-width="0.12">-10</text>
<line x1="440.60" y1="114.50" x2="440.60" y2="116.70" stroke="#000" stroke-width="0.9"/>
<line x1="451.60" y1="114.50" x2="451.60" y2="117.70" stroke="#000" stroke-width="1.1"/>
<text x="451.00" y="125.20" font-size="7.5" text-anchor="middle" font-family="Liberation Sans, Arial, Helvetica, sans-serif" font-weight="bold" fill="#000" stroke="#000" stroke-width="0.12">-9</text>
<line x1="462.60" y1="114.50" x2="462.60" y2="116.70" stroke="#000" stroke-width="0.9"/>
<line x1="473.60" y1="114.50" x2="473.60" y2="117.70" stroke="#000" stroke-width="1.1"/>
<text x="473.00" y="125.20" font-size="7.5" text-anchor="middle" font-family="Liberation Sans, Arial, Helvetica, sans-serif" font-weight="bold" fill="#000" stroke="#000" stroke-width="0.12">-8</text>
<line x1="484.60" y1="114.50" x2="484.60" y2="116.70" stroke="#000" stroke-width="0.9"/>
<line x1="495.60" y1="114.50" x2="495.60" y2="117.70" stroke="#000" stroke-width="1.1"/>
<text x="495.00" y="125.20" font-size="7.5" text-anchor="middle" font-family="Liberation Sans, Arial, Helvetica, sans-serif" font-weight="bold" fill="#000" stroke="#000" stroke-width="0.12">-7</text>
<line x1="506.60" y1="114.50" x2="506.60" y2="116.70" stroke="#000" stroke-width="0.9"/>
<line x1="517.60" y1="114.50" x2="517.60" y2="117.70" stroke="#000" stroke-width="1.1"/>
<text x="517.00" y="125.20" font-size="7.5" text-anchor="middle" font-family="Liberation Sans, Arial, Helvetica, sans-serif" font-weight="bold" fill="#000" stroke="#000" stroke-width="0.12">-6</text>
<text x="398.60" y="134.69" font-size="8.3" text-anchor="start" font-family="Liberation Sans, Arial, Helvetica, sans-serif" font-weight="bold" fill="#000" textLength="95.20" lengthAdjust="spacingAndGlyphs" stroke="#000" stroke-width="0.12">Log (compound) (mol/L)</text>
<text transform="translate(354.40,112.00) rotate(-90)" font-size="8.6" text-anchor="start" font-family="Liberation Sans, Arial, Helvetica, sans-serif" font-weight="bold" fill="#000" textLength="92.60" lengthAdjust="spacingAndGlyphs" stroke="#000" stroke-width="0.15">% [<tspan font-size="5.16" dy="-3.10">3</tspan><tspan dy="3.10">H]-BAY-8002 bound</tspan></text>
<text x="429.00" y="20.30" font-size="9.5" text-anchor="middle" font-family="Liberation Sans, Arial, Helvetica, sans-serif" font-weight="bold" fill="#000" stroke="#000" stroke-width="0.1">[<tspan font-size="5.70" dy="-3.42">3</tspan><tspan dy="3.42">H]-BAY-8002</tspan></text>
<polygon points="384.40,95.64 382.70,98.96 386.10,98.96" fill="#000"/>
<circle cx="384.40" cy="106.40" r="1.7" fill="#000"/>
<text x="393.50" y="100.30" font-size="7.5" text-anchor="start" font-family="Liberation Sans, Arial, Helvetica, sans-serif" font-weight="bold" fill="#000" stroke="#000" stroke-width="0.12">AZD3965</text>
<text x="393.50" y="109.10" font-size="7.5" text-anchor="start" font-family="Liberation Sans, Arial, Helvetica, sans-serif" font-weight="bold" fill="#000" stroke="#000" stroke-width="0.12">BAY-8002</text>
<polyline points="407.6,31.6 409.4,31.6 411.3,31.6 413.1,31.6 414.9,31.6 416.8,31.6 418.6,31.6 420.4,31.6 422.3,31.6 424.1,31.7 425.9,31.7 427.8,31.7 429.6,31.8 431.4,31.8 433.3,31.9 435.1,32.0 436.9,32.1 438.8,32.3 440.6,32.4 442.4,32.7 444.3,33.0 446.1,33.4 447.9,33.8 449.8,34.4 451.6,35.1 453.4,36.1 455.3,37.2 457.1,38.5 458.9,40.2 460.8,42.2 462.6,44.5 464.4,47.2 466.3,50.3 468.1,53.7 469.9,57.4 471.8,61.3 473.6,65.3 475.4,69.4 477.3,73.3 479.1,77.0 480.9,80.4 482.8,83.5 484.6,86.1 486.4,88.5 488.3,90.4 490.1,92.1 491.9,93.5 493.8,94.6 495.6,95.5 497.4,96.2 499.3,96.8 501.1,97.3 502.9,97.7 504.8,98.0 506.6,98.2 508.4,98.4 510.3,98.5 512.1,98.7 513.9,98.8 515.8,98.8 517.6,98.9" fill="none" stroke="#000" stroke-width="1.25"/>
<polyline points="407.6,34.9 409.4,34.9 411.3,35.0 413.1,35.0 414.9,35.1 416.8,35.2 418.6,35.2 420.4,35.3 422.3,35.4 424.1,35.5 425.9,35.7 427.8,35.8 429.6,36.0 431.4,36.2 433.3,36.5 435.1,36.8 436.9,37.1 438.8,37.5 440.6,38.0 442.4,38.5 444.3,39.1 446.1,39.8 447.9,40.6 449.8,41.5 451.6,42.5 453.4,43.7 455.3,45.0 457.1,46.5 458.9,48.1 460.8,49.9 462.6,51.8 464.4,54.0 466.3,56.2 468.1,58.7 469.9,61.2 471.8,63.8 473.6,66.6 475.4,69.3 477.3,72.1 479.1,74.8 480.9,77.5 482.8,80.1 484.6,82.5 486.4,84.9 488.3,87.1 490.1,89.1 491.9,90.9 493.8,92.6 495.6,94.2 497.4,95.5 499.3,96.7 501.1,97.8 502.9,98.8 504.8,99.6 506.6,100.4 508.4,101.0 510.3,101.5 512.1,102.0 513.9,102.5 515.8,102.8 517.6,103.1" fill="none" stroke="#000" stroke-width="1.25" stroke-dasharray="3.6,2.4"/>
<line x1="388.60" y1="30.76" x2="388.60" y2="40.24" stroke="#000" stroke-width="0.7"/>
<line x1="386.90" y1="30.76" x2="390.30" y2="30.76" stroke="#000" stroke-width="0.7"/>
<line x1="386.90" y1="40.24" x2="390.30" y2="40.24" stroke="#000" stroke-width="0.7"/>
<circle cx="388.60" cy="35.50" r="2.0" fill="#000"/>
<line x1="407.60" y1="25.23" x2="407.60" y2="39.45" stroke="#000" stroke-width="0.7"/>
<line x1="405.90" y1="25.23" x2="409.30" y2="25.23" stroke="#000" stroke-width="0.7"/>
<line x1="405.90" y1="39.45" x2="409.30" y2="39.45" stroke="#000" stroke-width="0.7"/>
<polygon points="407.60,29.93 405.50,34.02 409.70,34.02" fill="#000"/>
<line x1="429.60" y1="26.81" x2="429.60" y2="41.03" stroke="#000" stroke-width="0.7"/>
<line x1="427.90" y1="26.81" x2="431.30" y2="26.81" stroke="#000" stroke-width="0.7"/>
<line x1="427.90" y1="41.03" x2="431.30" y2="41.03" stroke="#000" stroke-width="0.7"/>
<polygon points="429.60,31.51 427.50,35.60 431.70,35.60" fill="#000"/>
<line x1="451.60" y1="29.18" x2="451.60" y2="37.08" stroke="#000" stroke-width="0.7"/>
<line x1="449.90" y1="29.18" x2="453.30" y2="29.18" stroke="#000" stroke-width="0.7"/>
<line x1="449.90" y1="37.08" x2="453.30" y2="37.08" stroke="#000" stroke-width="0.7"/>
<polygon points="451.60,30.71 449.50,34.81 453.70,34.81" fill="#000"/>
<line x1="462.60" y1="49.72" x2="462.60" y2="54.46" stroke="#000" stroke-width="0.7"/>
<line x1="460.90" y1="49.72" x2="464.30" y2="49.72" stroke="#000" stroke-width="0.7"/>
<line x1="460.90" y1="54.46" x2="464.30" y2="54.46" stroke="#000" stroke-width="0.7"/>
<polygon points="462.60,49.67 460.50,53.77 464.70,53.77" fill="#000"/>
<line x1="473.60" y1="59.20" x2="473.60" y2="76.58" stroke="#000" stroke-width="0.7"/>
<line x1="471.90" y1="59.20" x2="475.30" y2="59.20" stroke="#000" stroke-width="0.7"/>
<line x1="471.90" y1="76.58" x2="475.30" y2="76.58" stroke="#000" stroke-width="0.7"/>
<polygon points="473.60,65.47 471.50,69.57 475.70,69.57" fill="#000"/>
<line x1="495.60" y1="94.75" x2="495.60" y2="97.91" stroke="#000" stroke-width="0.7"/>
<line x1="493.90" y1="94.75" x2="497.30" y2="94.75" stroke="#000" stroke-width="0.7"/>
<line x1="493.90" y1="97.91" x2="497.30" y2="97.91" stroke="#000" stroke-width="0.7"/>
<polygon points="495.60,93.91 493.50,98.01 497.70,98.01" fill="#000"/>
<line x1="517.60" y1="95.54" x2="517.60" y2="101.86" stroke="#000" stroke-width="0.7"/>
<line x1="515.90" y1="95.54" x2="519.30" y2="95.54" stroke="#000" stroke-width="0.7"/>
<line x1="515.90" y1="101.86" x2="519.30" y2="101.86" stroke="#000" stroke-width="0.7"/>
<polygon points="517.60,96.28 515.50,100.38 519.70,100.38" fill="#000"/>
<line x1="407.60" y1="33.13" x2="407.60" y2="37.87" stroke="#000" stroke-width="0.7"/>
<line x1="405.90" y1="33.13" x2="409.30" y2="33.13" stroke="#000" stroke-width="0.7"/>
<line x1="405.90" y1="37.87" x2="409.30" y2="37.87" stroke="#000" stroke-width="0.7"/>
<circle cx="407.60" cy="35.50" r="2.0" fill="#000"/>
<line x1="429.60" y1="32.34" x2="429.60" y2="40.24" stroke="#000" stroke-width="0.7"/>
<line x1="427.90" y1="32.34" x2="431.30" y2="32.34" stroke="#000" stroke-width="0.7"/>
<line x1="427.90" y1="40.24" x2="431.30" y2="40.24" stroke="#000" stroke-width="0.7"/>
<circle cx="429.60" cy="36.29" r="2.0" fill="#000"/>
<line x1="451.60" y1="39.05" x2="451.60" y2="42.22" stroke="#000" stroke-width="0.7"/>
<line x1="449.90" y1="39.05" x2="453.30" y2="39.05" stroke="#000" stroke-width="0.7"/>
<line x1="449.90" y1="42.22" x2="453.30" y2="42.22" stroke="#000" stroke-width="0.7"/>
<circle cx="451.60" cy="40.63" r="2.0" fill="#000"/>
<line x1="462.60" y1="51.30" x2="462.60" y2="54.46" stroke="#000" stroke-width="0.7"/>
<line x1="460.90" y1="51.30" x2="464.30" y2="51.30" stroke="#000" stroke-width="0.7"/>
<line x1="460.90" y1="54.46" x2="464.30" y2="54.46" stroke="#000" stroke-width="0.7"/>
<circle cx="462.60" cy="52.88" r="2.0" fill="#000"/>
<line x1="473.60" y1="64.73" x2="473.60" y2="72.63" stroke="#000" stroke-width="0.7"/>
<line x1="471.90" y1="64.73" x2="475.30" y2="64.73" stroke="#000" stroke-width="0.7"/>
<line x1="471.90" y1="72.63" x2="475.30" y2="72.63" stroke="#000" stroke-width="0.7"/>
<circle cx="473.60" cy="68.68" r="2.0" fill="#000"/>
<line x1="495.60" y1="90.01" x2="495.60" y2="93.17" stroke="#000" stroke-width="0.7"/>
<line x1="493.90" y1="90.01" x2="497.30" y2="90.01" stroke="#000" stroke-width="0.7"/>
<line x1="493.90" y1="93.17" x2="497.30" y2="93.17" stroke="#000" stroke-width="0.7"/>
<circle cx="495.60" cy="91.59" r="2.0" fill="#000"/>
<line x1="517.60" y1="99.09" x2="517.60" y2="107.00" stroke="#000" stroke-width="0.7"/>
<line x1="515.90" y1="99.09" x2="519.30" y2="99.09" stroke="#000" stroke-width="0.7"/>
<line x1="515.90" y1="107.00" x2="519.30" y2="107.00" stroke="#000" stroke-width="0.7"/>
<circle cx="517.60" cy="103.05" r="2.0" fill="#000"/>
<line x1="375.20" y1="154.30" x2="375.20" y2="250.20" stroke="#000" stroke-width="1.2"/>
<line x1="374.60" y1="249.60" x2="402.60" y2="249.60" stroke="#000" stroke-width="1.2"/>
<line x1="407.60" y1="249.60" x2="520.00" y2="249.60" stroke="#000" stroke-width="1.2"/>
<line x1="402.60" y1="247.40" x2="402.60" y2="251.80" stroke="#000" stroke-width="1.1"/>
<line x1="407.80" y1="247.40" x2="407.80" y2="251.80" stroke="#000" stroke-width="1.1"/>
<line x1="371.60" y1="249.60" x2="375.20" y2="249.60" stroke="#000" stroke-width="1.1"/>
<text x="371.20" y="252.30" font-size="7.5" text-anchor="end" font-family="Liberation Sans, Arial, Helvetica, sans-serif" font-weight="bold" fill="#000" stroke="#000" stroke-width="0.12">0</text>
<line x1="371.60" y1="233.80" x2="375.20" y2="233.80" stroke="#000" stroke-width="1.1"/>
<text x="371.20" y="236.50" font-size="7.5" text-anchor="end" font-family="Liberation Sans, Arial, Helvetica, sans-serif" font-weight="bold" fill="#000" stroke="#000" stroke-width="0.12">20</text>
<line x1="371.60" y1="218.00" x2="375.20" y2="218.00" stroke="#000" stroke-width="1.1"/>
<text x="371.20" y="220.70" font-size="7.5" text-anchor="end" font-family="Liberation Sans, Arial, Helvetica, sans-serif" font-weight="bold" fill="#000" stroke="#000" stroke-width="0.12">40</text>
<line x1="371.60" y1="202.20" x2="375.20" y2="202.20" stroke="#000" stroke-width="1.1"/>
<text x="371.20" y="204.90" font-size="7.5" text-anchor="end" font-family="Liberation Sans, Arial, Helvetica, sans-serif" font-weight="bold" fill="#000" stroke="#000" stroke-width="0.12">60</text>
<line x1="371.60" y1="186.40" x2="375.20" y2="186.40" stroke="#000" stroke-width="1.1"/>
<text x="371.20" y="189.10" font-size="7.5" text-anchor="end" font-family="Liberation Sans, Arial, Helvetica, sans-serif" font-weight="bold" fill="#000" stroke="#000" stroke-width="0.12">80</text>
<line x1="371.60" y1="170.60" x2="375.20" y2="170.60" stroke="#000" stroke-width="1.1"/>
<text x="371.20" y="173.30" font-size="7.5" text-anchor="end" font-family="Liberation Sans, Arial, Helvetica, sans-serif" font-weight="bold" fill="#000" stroke="#000" stroke-width="0.12">100</text>
<line x1="371.60" y1="154.80" x2="375.20" y2="154.80" stroke="#000" stroke-width="1.1"/>
<text x="371.20" y="157.50" font-size="7.5" text-anchor="end" font-family="Liberation Sans, Arial, Helvetica, sans-serif" font-weight="bold" fill="#000" stroke="#000" stroke-width="0.12">120</text>
<line x1="388.60" y1="249.60" x2="388.60" y2="252.80" stroke="#000" stroke-width="1.1"/>
<text x="377.40" y="260.30" font-size="7.5" text-anchor="start" font-family="Liberation Sans, Arial, Helvetica, sans-serif" font-weight="bold" fill="#000" textLength="22.80" lengthAdjust="spacingAndGlyphs" stroke="#000" stroke-width="0.12">DMSO</text>
<line x1="407.60" y1="249.60" x2="407.60" y2="252.80" stroke="#000" stroke-width="1.1"/>
<text x="407.00" y="260.30" font-size="7.5" text-anchor="middle" font-family="Liberation Sans, Arial, Helvetica, sans-serif" font-weight="bold" fill="#000" stroke="#000" stroke-width="0.12">-11</text>
<line x1="418.60" y1="249.60" x2="418.60" y2="251.80" stroke="#000" stroke-width="0.9"/>
<line x1="429.60" y1="249.60" x2="429.60" y2="252.80" stroke="#000" stroke-width="1.1"/>
<text x="429.00" y="260.30" font-size="7.5" text-anchor="middle" font-family="Liberation Sans, Arial, Helvetica, sans-serif" font-weight="bold" fill="#000" stroke="#000" stroke-width="0.12">-10</text>
<line x1="440.60" y1="249.60" x2="440.60" y2="251.80" stroke="#000" stroke-width="0.9"/>
<line x1="451.60" y1="249.60" x2="451.60" y2="252.80" stroke="#000" stroke-width="1.1"/>
<text x="451.00" y="260.30" font-size="7.5" text-anchor="middle" font-family="Liberation Sans, Arial, Helvetica, sans-serif" font-weight="bold" fill="#000" stroke="#000" stroke-width="0.12">-9</text>
<line x1="462.60" y1="249.60" x2="462.60" y2="251.80" stroke="#000" stroke-width="0.9"/>
<line x1="473.60" y1="249.60" x2="473.60" y2="252.80" stroke="#000" stroke-width="1.1"/>
<text x="473.00" y="260.30" font-size="7.5" text-anchor="middle" font-family="Liberation Sans, Arial, Helvetica, sans-serif" font-weight="bold" fill="#000" stroke="#000" stroke-width="0.12">-8</text>
<line x1="484.60" y1="249.60" x2="484.60" y2="251.80" stroke="#000" stroke-width="0.9"/>
<line x1="495.60" y1="249.60" x2="495.60" y2="252.80" stroke="#000" stroke-width="1.1"/>
<text x="495.00" y="260.30" font-size="7.5" text-anchor="middle" font-family="Liberation Sans, Arial, Helvetica, sans-serif" font-weight="bold" fill="#000" stroke="#000" stroke-width="0.12">-7</text>
<line x1="506.60" y1="249.60" x2="506.60" y2="251.80" stroke="#000" stroke-width="0.9"/>
<line x1="517.60" y1="249.60" x2="517.60" y2="252.80" stroke="#000" stroke-width="1.1"/>
<text x="517.00" y="260.30" font-size="7.5" text-anchor="middle" font-family="Liberation Sans, Arial, Helvetica, sans-serif" font-weight="bold" fill="#000" stroke="#000" stroke-width="0.12">-6</text>
<text x="398.60" y="269.79" font-size="8.3" text-anchor="start" font-family="Liberation Sans, Arial, Helvetica, sans-serif" font-weight="bold" fill="#000" textLength="95.20" lengthAdjust="spacingAndGlyphs" stroke="#000" stroke-width="0.12">Log (compound) (mol/L)</text>
<text transform="translate(354.40,236.70) rotate(-90)" font-size="8.6" text-anchor="start" font-family="Liberation Sans, Arial, Helvetica, sans-serif" font-weight="bold" fill="#000" textLength="70.00" lengthAdjust="spacingAndGlyphs" stroke="#000" stroke-width="0.15">% [<tspan font-size="5.16" dy="-3.10">3</tspan><tspan dy="3.10">H]-AZD bound</tspan></text>
<text x="434.50" y="155.40" font-size="9.5" text-anchor="middle" font-family="Liberation Sans, Arial, Helvetica, sans-serif" font-weight="bold" fill="#000" stroke="#000" stroke-width="0.1">[<tspan font-size="5.70" dy="-3.42">3</tspan><tspan dy="3.42">H]-AZD3965</tspan></text>
<polygon points="381.60,229.44 379.90,232.76 383.30,232.76" fill="#000"/>
<circle cx="381.60" cy="240.40" r="1.7" fill="#000"/>
<text x="390.70" y="234.10" font-size="7.5" text-anchor="start" font-family="Liberation Sans, Arial, Helvetica, sans-serif" font-weight="bold" fill="#000" stroke="#000" stroke-width="0.12">AZD3965</text>
<text x="390.70" y="243.10" font-size="7.5" text-anchor="start" font-family="Liberation Sans, Arial, Helvetica, sans-serif" font-weight="bold" fill="#000" stroke="#000" stroke-width="0.12">BAY-8002</text>
<polyline points="407.6,170.6 409.4,170.6 411.3,170.6 413.1,170.6 414.9,170.6 416.8,170.6 418.6,170.6 420.4,170.6 422.3,170.6 424.1,170.6 425.9,170.6 427.8,170.6 429.6,170.6 431.4,170.7 433.3,170.7 435.1,170.7 436.9,170.8 438.8,170.8 440.6,170.9 442.4,171.0 444.3,171.2 446.1,171.4 447.9,171.7 449.8,172.1 451.6,172.6 453.4,173.3 455.3,174.3 457.1,175.6 458.9,177.4 460.8,179.6 462.6,182.5 464.4,186.1 466.3,190.4 468.1,195.5 469.9,201.2 471.8,207.2 473.6,213.3 475.4,219.2 477.3,224.6 479.1,229.4 480.9,233.4 482.8,236.7 484.6,239.3 486.4,241.3 488.3,242.8 490.1,244.0 491.9,244.8 493.8,245.5 495.6,246.0 497.4,246.3 499.3,246.6 501.1,246.7 502.9,246.9 504.8,247.0 506.6,247.0 508.4,247.1 510.3,247.1 512.1,247.2 513.9,247.2 515.8,247.2 517.6,247.2" fill="none" stroke="#000" stroke-width="1.25"/>
<polyline points="407.6,170.6 409.4,170.6 411.3,170.6 413.1,170.6 414.9,170.7 416.8,170.7 418.6,170.7 420.4,170.7 422.3,170.8 424.1,170.8 425.9,170.9 427.8,170.9 429.6,171.0 431.4,171.2 433.3,171.3 435.1,171.5 436.9,171.8 438.8,172.1 440.6,172.5 442.4,173.0 444.3,173.6 446.1,174.4 447.9,175.4 449.8,176.6 451.6,178.1 453.4,180.0 455.3,182.2 457.1,184.8 458.9,187.8 460.8,191.3 462.6,195.1 464.4,199.3 466.3,203.7 468.1,208.3 469.9,212.8 471.8,217.2 473.6,221.3 475.4,225.1 477.3,228.4 479.1,231.3 480.9,233.9 482.8,236.0 484.6,237.7 486.4,239.2 488.3,240.3 490.1,241.3 491.9,242.0 493.8,242.6 495.6,243.1 497.4,243.5 499.3,243.8 501.1,244.0 502.9,244.2 504.8,244.3 506.6,244.4 508.4,244.5 510.3,244.6 512.1,244.7 513.9,244.7 515.8,244.7 517.6,244.8" fill="none" stroke="#000" stroke-width="1.25" stroke-dasharray="3.6,2.4"/>
<line x1="388.60" y1="164.28" x2="388.60" y2="176.92" stroke="#000" stroke-width="0.7"/>
<line x1="386.90" y1="164.28" x2="390.30" y2="164.28" stroke="#000" stroke-width="0.7"/>
<line x1="386.90" y1="176.92" x2="390.30" y2="176.92" stroke="#000" stroke-width="0.7"/>
<circle cx="388.60" cy="170.60" r="2.0" fill="#000"/>
<line x1="407.60" y1="162.70" x2="407.60" y2="178.50" stroke="#000" stroke-width="0.7"/>
<line x1="405.90" y1="162.70" x2="409.30" y2="162.70" stroke="#000" stroke-width="0.7"/>
<line x1="405.90" y1="178.50" x2="409.30" y2="178.50" stroke="#000" stroke-width="0.7"/>
<polygon points="407.60,168.19 405.50,172.28 409.70,172.28" fill="#000"/>
<line x1="429.60" y1="164.28" x2="429.60" y2="176.92" stroke="#000" stroke-width="0.7"/>
<line x1="427.90" y1="164.28" x2="431.30" y2="164.28" stroke="#000" stroke-width="0.7"/>
<line x1="427.90" y1="176.92" x2="431.30" y2="176.92" stroke="#000" stroke-width="0.7"/>
<polygon points="429.60,168.19 427.50,172.28 431.70,172.28" fill="#000"/>
<line x1="451.60" y1="169.02" x2="451.60" y2="176.92" stroke="#000" stroke-width="0.7"/>
<line x1="449.90" y1="169.02" x2="453.30" y2="169.02" stroke="#000" stroke-width="0.7"/>
<line x1="449.90" y1="176.92" x2="453.30" y2="176.92" stroke="#000" stroke-width="0.7"/>
<polygon points="451.60,170.55 449.50,174.65 453.70,174.65" fill="#000"/>
<line x1="462.60" y1="177.71" x2="462.60" y2="182.45" stroke="#000" stroke-width="0.7"/>
<line x1="460.90" y1="177.71" x2="464.30" y2="177.71" stroke="#000" stroke-width="0.7"/>
<line x1="460.90" y1="182.45" x2="464.30" y2="182.45" stroke="#000" stroke-width="0.7"/>
<polygon points="462.60,177.66 460.50,181.76 464.70,181.76" fill="#000"/>
<line x1="473.60" y1="207.97" x2="473.60" y2="212.71" stroke="#000" stroke-width="0.7"/>
<line x1="471.90" y1="207.97" x2="475.30" y2="207.97" stroke="#000" stroke-width="0.7"/>
<line x1="471.90" y1="212.71" x2="475.30" y2="212.71" stroke="#000" stroke-width="0.7"/>
<polygon points="473.60,207.92 471.50,212.02 475.70,212.02" fill="#000"/>
<line x1="495.60" y1="244.86" x2="495.60" y2="246.44" stroke="#000" stroke-width="0.7"/>
<line x1="493.90" y1="244.86" x2="497.30" y2="244.86" stroke="#000" stroke-width="0.7"/>
<line x1="493.90" y1="246.44" x2="497.30" y2="246.44" stroke="#000" stroke-width="0.7"/>
<polygon points="495.60,243.24 493.50,247.33 497.70,247.33" fill="#000"/>
<line x1="517.60" y1="246.44" x2="517.60" y2="248.02" stroke="#000" stroke-width="0.7"/>
<line x1="515.90" y1="246.44" x2="519.30" y2="246.44" stroke="#000" stroke-width="0.7"/>
<line x1="515.90" y1="248.02" x2="519.30" y2="248.02" stroke="#000" stroke-width="0.7"/>
<polygon points="517.60,244.81 515.50,248.91 519.70,248.91" fill="#000"/>
<line x1="407.60" y1="167.44" x2="407.60" y2="173.76" stroke="#000" stroke-width="0.7"/>
<line x1="405.90" y1="167.44" x2="409.30" y2="167.44" stroke="#000" stroke-width="0.7"/>
<line x1="405.90" y1="173.76" x2="409.30" y2="173.76" stroke="#000" stroke-width="0.7"/>
<circle cx="407.60" cy="170.60" r="2.0" fill="#000"/>
<line x1="429.60" y1="166.65" x2="429.60" y2="174.55" stroke="#000" stroke-width="0.7"/>
<line x1="427.90" y1="166.65" x2="431.30" y2="166.65" stroke="#000" stroke-width="0.7"/>
<line x1="427.90" y1="174.55" x2="431.30" y2="174.55" stroke="#000" stroke-width="0.7"/>
<circle cx="429.60" cy="170.60" r="2.0" fill="#000"/>
<line x1="451.60" y1="180.08" x2="451.60" y2="183.24" stroke="#000" stroke-width="0.7"/>
<line x1="449.90" y1="180.08" x2="453.30" y2="180.08" stroke="#000" stroke-width="0.7"/>
<line x1="449.90" y1="183.24" x2="453.30" y2="183.24" stroke="#000" stroke-width="0.7"/>
<circle cx="451.60" cy="181.66" r="2.0" fill="#000"/>
<line x1="462.60" y1="191.93" x2="462.60" y2="196.67" stroke="#000" stroke-width="0.7"/>
<line x1="460.90" y1="191.93" x2="464.30" y2="191.93" stroke="#000" stroke-width="0.7"/>
<line x1="460.90" y1="196.67" x2="464.30" y2="196.67" stroke="#000" stroke-width="0.7"/>
<circle cx="462.60" cy="194.30" r="2.0" fill="#000"/>
<line x1="473.60" y1="219.58" x2="473.60" y2="222.74" stroke="#000" stroke-width="0.7"/>
<line x1="471.90" y1="219.58" x2="475.30" y2="219.58" stroke="#000" stroke-width="0.7"/>
<line x1="471.90" y1="222.74" x2="475.30" y2="222.74" stroke="#000" stroke-width="0.7"/>
<circle cx="473.60" cy="221.16" r="2.0" fill="#000"/>
<line x1="495.60" y1="240.04" x2="495.60" y2="242.41" stroke="#000" stroke-width="0.7"/>
<line x1="493.90" y1="240.04" x2="497.30" y2="240.04" stroke="#000" stroke-width="0.7"/>
<line x1="493.90" y1="242.41" x2="497.30" y2="242.41" stroke="#000" stroke-width="0.7"/>
<circle cx="495.60" cy="241.23" r="2.0" fill="#000"/>
<line x1="517.60" y1="243.28" x2="517.60" y2="246.44" stroke="#000" stroke-width="0.7"/>
<line x1="515.90" y1="243.28" x2="519.30" y2="243.28" stroke="#000" stroke-width="0.7"/>
<line x1="515.90" y1="246.44" x2="519.30" y2="246.44" stroke="#000" stroke-width="0.7"/>
<circle cx="517.60" cy="244.86" r="2.0" fill="#000"/>
</svg>
</body></html>
